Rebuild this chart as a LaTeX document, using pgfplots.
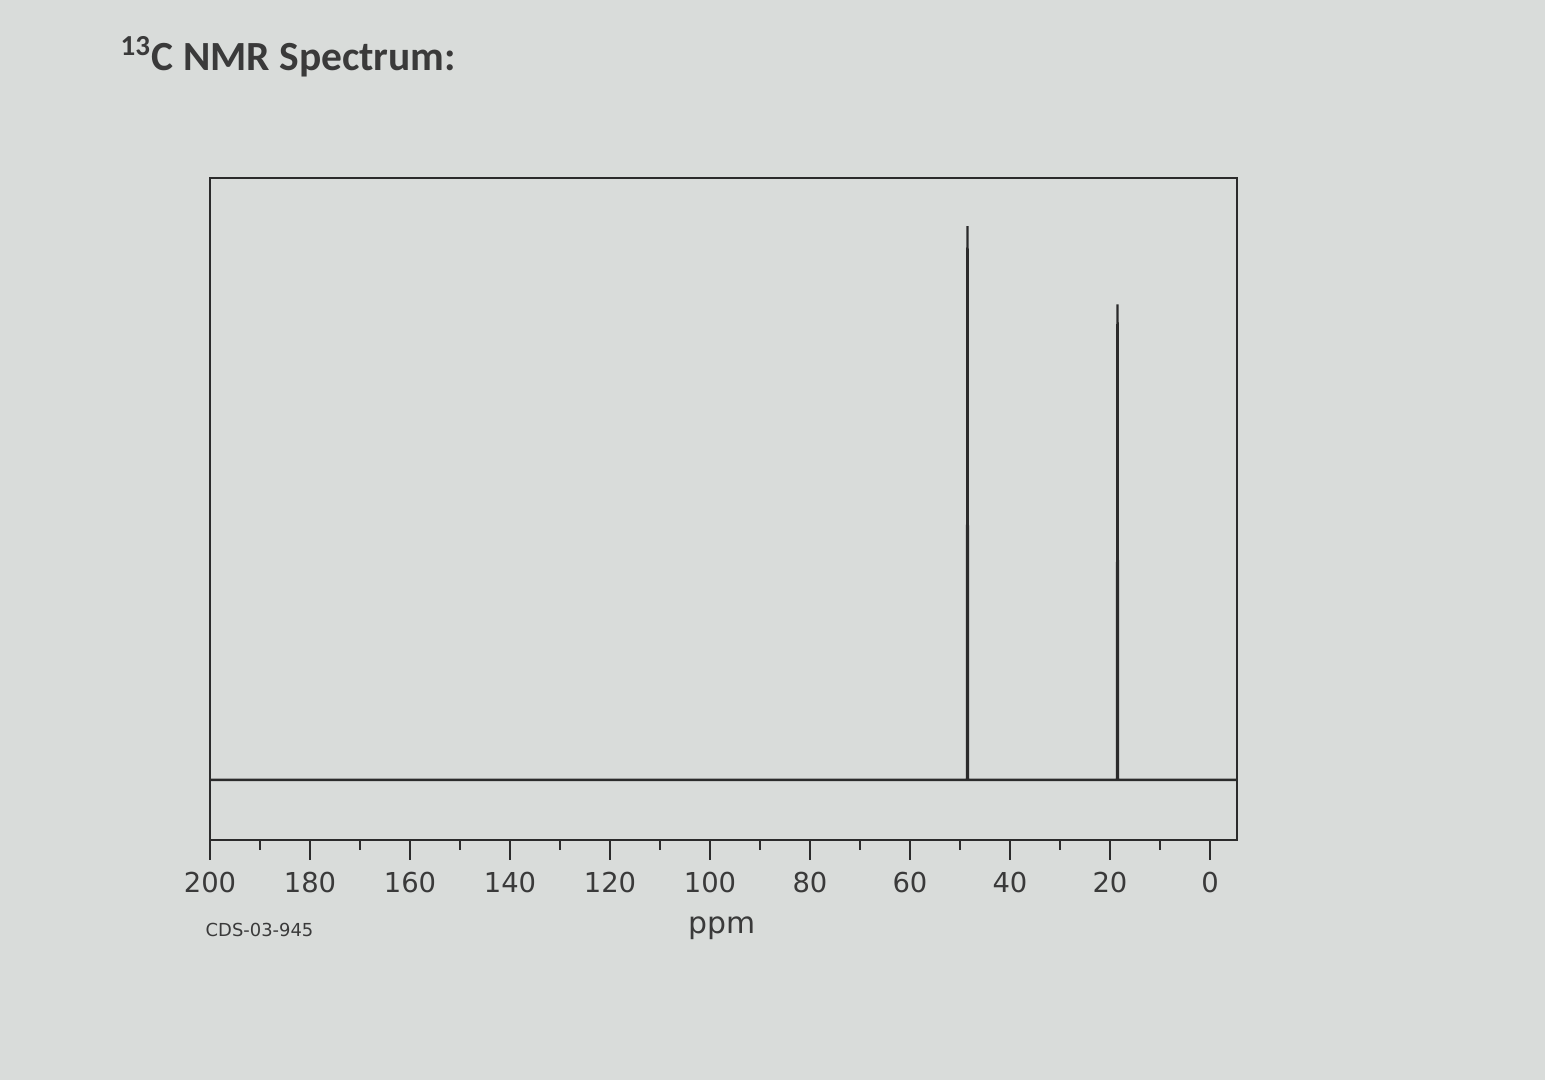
\documentclass[border=0pt]{standalone}
\usepackage{pgfplots}
\pgfplotsset{compat=1.18}
\usepackage{fontspec}
\setmainfont{Carlito}
\newfontfamily\tickfont{DejaVu Sans}
\definecolor{bg}{HTML}{D9DCDA}
\definecolor{ink}{HTML}{2B2B2B}
\definecolor{txt}{HTML}{3A3A3A}
\begin{document}
\begin{tikzpicture}[x=1cm,y=1cm]
\fill[bg] (0,0) rectangle (15.45,10.8);
\node[anchor=west,font=\bfseries\fontsize{11.8}{14}\selectfont,text=txt,inner sep=0pt] at (1.2,10.23) {\textsuperscript{13}C NMR Spectrum:};
\begin{axis}[
  at={(2.10cm,2.40cm)}, anchor=south west,
  scale only axis, width=10.27cm, height=6.62cm,
  x dir=reverse, xmin=-5.4, xmax=200,
  ymin=-10, ymax=100,
  axis line style={ink, line width=0.7pt},
  xtick={0,20,...,200}, minor xtick={10,30,...,190},
  xtick pos=bottom, tick align=outside,
  major tick length=0.2cm, minor tick length=0.1cm,
  every tick/.style={ink, line width=0.8pt},
  ytick=\empty,
  xticklabel style={font=\tickfont\fontsize{7.8}{9}\selectfont, text=txt},
  /pgf/number format/assume math mode=true,
  clip=false,
]
\addplot[ink, line width=0.7pt] coordinates {
  (-5.4,0) (18.4,0) (18.5,79) (18.6,0) (48.4,0) (48.5,92) (48.6,0) (200,0)
};
\node[font=\tickfont\fontsize{8.5}{10}\selectfont, text=txt] at (axis cs:97.5,-24.6) {ppm};
\node[anchor=west, font=\tickfont\fontsize{5.1}{6}\selectfont, text=txt, inner sep=0pt] at (axis cs:201,-25) {CDS-03-945};
\end{axis}
\end{tikzpicture}
\end{document}
